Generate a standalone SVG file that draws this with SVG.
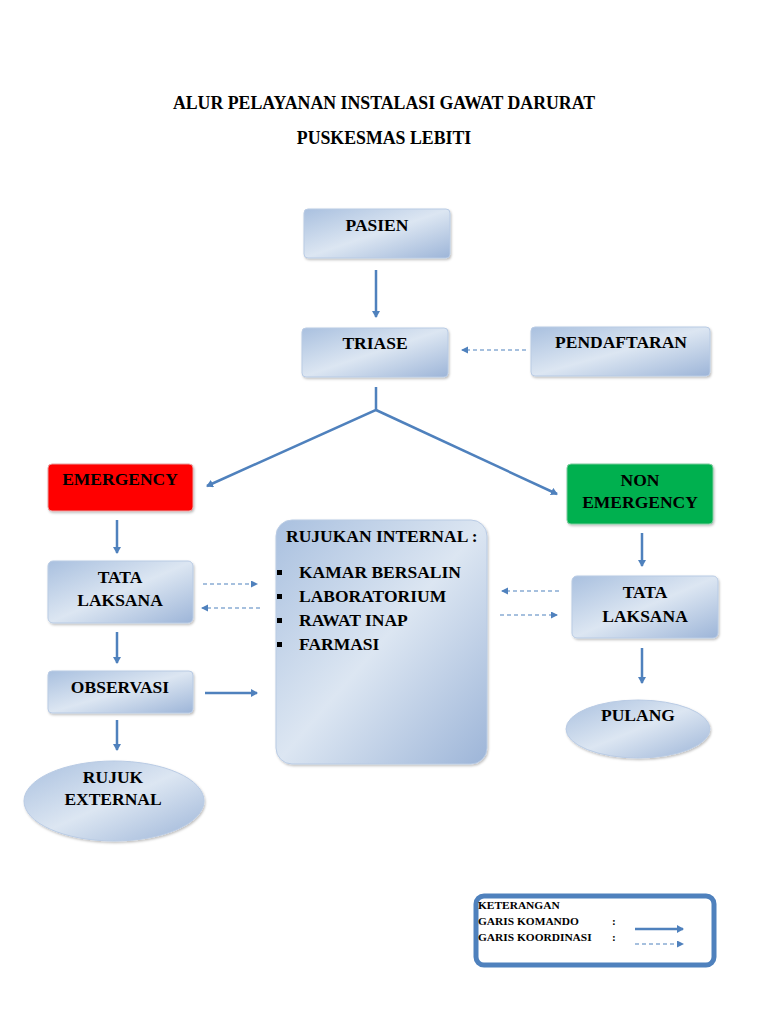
<svg xmlns="http://www.w3.org/2000/svg" width="768" height="1024" viewBox="0 0 768 1024">
<defs>
<linearGradient id="g" x1="0" y1="0" x2="1" y2="1">
<stop offset="0" stop-color="#A9C0DF"/>
<stop offset="0.5" stop-color="#DCE6F2"/>
<stop offset="1" stop-color="#9DB5D8"/>
</linearGradient>
<marker id="ah" markerWidth="8" markerHeight="8" refX="6" refY="4" orient="auto" markerUnits="userSpaceOnUse">
<path d="M0,0 L7,4 L0,8 z" fill="#4F81BD"/>
</marker>
<marker id="ahs" markerWidth="8" markerHeight="8" refX="6" refY="3.5" orient="auto" markerUnits="userSpaceOnUse">
<path d="M0,0 L7,3.5 L0,7 z" fill="#4F81BD"/>
</marker>
<filter id="sh" x="-10%" y="-10%" width="130%" height="130%">
<feDropShadow dx="1" dy="1.5" stdDeviation="1" flood-color="#000" flood-opacity="0.25"/>
</filter>
</defs>
<style>
text{font-family:"Liberation Serif","Times New Roman",serif;font-weight:bold;fill:#000}
.t{font-size:17.5px;text-anchor:middle}
.h{font-size:17.8px;text-anchor:middle}
.l{font-size:17.5px}
.k{font-size:11.4px}
.box{fill:url(#g);stroke:#B9CBE4;stroke-width:1;filter:url(#sh)}
.s{stroke:#4F81BD;stroke-width:2.5;fill:none}
.d{stroke:#4F81BD;stroke-width:1.2;fill:none;stroke-dasharray:4 3}
</style>
<rect width="768" height="1024" fill="#fff"/>
<g id="title">
<text class="h" x="384" y="109">ALUR PELAYANAN INSTALASI GAWAT DARURAT</text>
<text class="h" x="384" y="144">PUSKESMAS LEBITI</text>
</g>
<g id="pasien"><rect class="box" x="304" y="209" width="146" height="49" rx="4"/><text class="t" x="377" y="231">PASIEN</text></g>
<g id="triase"><rect class="box" x="302" y="328" width="146" height="49" rx="4"/><text class="t" x="375" y="349">TRIASE</text></g>
<g id="pendaftaran"><rect class="box" x="531" y="327" width="179" height="49" rx="4"/><text class="t" x="621" y="348">PENDAFTARAN</text></g>
<g id="emergency"><rect x="48" y="464" width="145" height="47" rx="4" fill="#FF0000" stroke="#E8A0A0" stroke-width="1" filter="url(#sh)"/><text class="t" x="120" y="485">EMERGENCY</text></g>
<g id="nonemergency"><rect x="567" y="464" width="146" height="60" rx="4" fill="#00B050" stroke="#7CCB9C" stroke-width="1" filter="url(#sh)"/><text class="t" x="640" y="486">NON</text><text class="t" x="640" y="508">EMERGENCY</text></g>
<g id="tata1"><rect class="box" x="48" y="561" width="145" height="62" rx="5"/><text class="t" x="120" y="583">TATA</text><text class="t" x="120" y="606">LAKSANA</text></g>
<g id="observasi"><rect class="box" x="48" y="671" width="145" height="42" rx="4"/><text class="t" x="120" y="693">OBSERVASI</text></g>
<g id="rujukexternal"><ellipse class="box" cx="114" cy="801" rx="90" ry="40"/><text class="t" x="113" y="783">RUJUK</text><text class="t" x="113" y="805">EXTERNAL</text></g>
<g id="rujukaninternal"><rect class="box" x="276" y="520" width="211" height="244" rx="16"/>
<text class="l" x="286" y="542">RUJUKAN INTERNAL :</text>
<rect x="277" y="570" width="5" height="5" fill="#000"/><text class="l" x="299" y="578">KAMAR BERSALIN</text>
<rect x="277" y="594" width="5" height="5" fill="#000"/><text class="l" x="299" y="602">LABORATORIUM</text>
<rect x="277" y="618" width="5" height="5" fill="#000"/><text class="l" x="299" y="626">RAWAT INAP</text>
<rect x="277" y="642" width="5" height="5" fill="#000"/><text class="l" x="299" y="650">FARMASI</text>
</g>
<g id="tata2"><rect class="box" x="572" y="576" width="146" height="62" rx="5"/><text class="t" x="645" y="598">TATA</text><text class="t" x="645" y="622">LAKSANA</text></g>
<g id="pulang"><ellipse class="box" cx="638" cy="729" rx="72" ry="29"/><text class="t" x="638" y="721">PULANG</text></g>
<g id="connectors">
<line class="s" x1="376" y1="270" x2="376" y2="317" marker-end="url(#ah)"/>
<line class="d" x1="526" y1="350" x2="462" y2="350" marker-end="url(#ahs)"/>
<polyline class="s" points="376,387 376,410 207,486" marker-end="url(#ah)"/>
<polyline class="s" points="376,410 557,494" marker-end="url(#ah)"/>
<line class="s" x1="117" y1="520" x2="117" y2="553" marker-end="url(#ah)"/>
<line class="d" x1="203" y1="584" x2="257" y2="584" marker-end="url(#ahs)"/>
<line class="d" x1="260" y1="608" x2="202" y2="608" marker-end="url(#ahs)"/>
<line class="s" x1="117" y1="632" x2="117" y2="663" marker-end="url(#ah)"/>
<line class="s" x1="205" y1="693" x2="257" y2="693" marker-end="url(#ah)"/>
<line class="s" x1="117" y1="720" x2="117" y2="750" marker-end="url(#ah)"/>
<line class="d" x1="559" y1="591" x2="502" y2="591" marker-end="url(#ahs)"/>
<line class="d" x1="500" y1="615" x2="557" y2="615" marker-end="url(#ahs)"/>
<line class="s" x1="642" y1="533" x2="642" y2="566" marker-end="url(#ah)"/>
<line class="s" x1="642" y1="648" x2="642" y2="683" marker-end="url(#ah)"/>
</g>
<g id="legend">
<rect x="476" y="896" width="238" height="69" rx="8" fill="#fff" stroke="#4F81BD" stroke-width="5"/>
<text class="k" x="478" y="909">KETERANGAN</text>
<text class="k" x="478" y="925">GARIS KOMANDO</text>
<text class="k" x="612" y="925">:</text>
<text class="k" x="478" y="941">GARIS KOORDINASI</text>
<text class="k" x="612" y="941">:</text>
<line class="s" x1="635" y1="929" x2="683" y2="929" marker-end="url(#ah)"/>
<line class="d" x1="635" y1="944" x2="683" y2="944" marker-end="url(#ahs)"/>
</g>
</svg>
